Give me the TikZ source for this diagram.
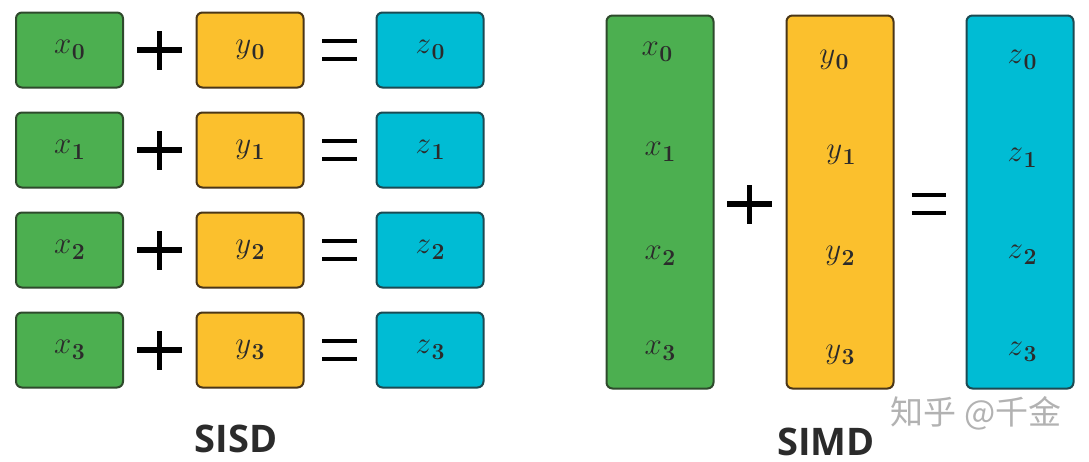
\RequirePackage{fix-cm}
\documentclass[tikz,border=0pt]{standalone}
\usepackage{fontspec}
\newfontfamily\labelfont{Open Sans}
\newfontfamily\cjk{Noto Sans CJK SC}
\definecolor{gfill}{HTML}{4CAF50}
\definecolor{gdraw}{HTML}{2E4A2C}
\definecolor{yfill}{HTML}{FBC02D}
\definecolor{ydraw}{HTML}{4A3618}
\definecolor{cfill}{HTML}{00BCD4}
\definecolor{cdraw}{HTML}{1C4A52}
\definecolor{txt}{HTML}{2B2B2B}
\newcommand{\varsub}[2]{$#1$\kern0.5pt\raisebox{-6pt}{\fontsize{23}{23}\selectfont\bfseries #2}}
\tikzset{
  cell/.style={rounded corners=6pt, line width=2pt, minimum width=107pt, inner sep=0pt, text=txt,
    font=\fontsize{31}{38}\selectfont},
  gcell/.style={cell, fill=gfill, draw=gdraw},
  ycell/.style={cell, fill=yfill, draw=ydraw},
  ccell/.style={cell, fill=cfill, draw=cdraw},
  small/.style={minimum height=75pt},
  tall/.style={minimum height=373pt},
  lbl/.style={text=txt, inner sep=0pt, font=\fontsize{31}{38}\selectfont},
  opline/.style={line width=5.5pt, black},
  eqline/.style={line width=4pt, black},
  title/.style={text=txt, font=\labelfont\bfseries\fontsize{38}{44}\selectfont},
}
\begin{document}
\begin{tikzpicture}[x=1pt,y=-1pt]
\useasboundingbox (0,0) rectangle (1089,461);
% SISD
\foreach \i/\yy in {0/50,1/150,2/250,3/350}{
  \node[gcell,small] (sx\i) at (69.5,\yy) {\varsub{x}{\i}};
  \node[ycell,small] (sy\i) at (250,\yy) {\varsub{y}{\i}};
  \node[ccell,small] (sz\i) at (430,\yy) {\varsub{z}{\i}};
  \node[inner sep=0pt, minimum size=44pt] (sp\i) at (159.5,\yy) {};
  \draw[opline] (sp\i.west) -- (sp\i.east);
  \draw[opline] ([yshift=-19.5pt]sp\i.center) -- ([yshift=19.5pt]sp\i.center);
  \node[inner sep=0pt, minimum width=34pt, minimum height=17pt] (se\i) at (339.5,\yy) {};
  \draw[eqline] (se\i.north west) -- (se\i.north east);
  \draw[eqline] (se\i.south west) -- (se\i.south east);
}
\node[title] (sisd) at (236,439) {SISD};
% SIMD
\node[gcell,tall] (mx) at (660,202) {};
\node[ycell,tall] (my) at (840,202) {};
\node[ccell,tall] (mz) at (1020,202) {};
\node[lbl] (mx0) at (657,52) {\varsub{x}{0}};
\node[lbl] (mx1) at (660,152) {\varsub{x}{1}};
\node[lbl] (mx2) at (660,256) {\varsub{x}{2}};
\node[lbl] (mx3) at (660,351) {\varsub{x}{3}};
\node[lbl] (my0) at (834,60) {\varsub{y}{0}};
\node[lbl] (my1) at (841,155) {\varsub{y}{1}};
\node[lbl] (my2) at (840,256) {\varsub{y}{2}};
\node[lbl] (my3) at (840,355) {\varsub{y}{3}};
\node[lbl] (mz0) at (1022,60) {\varsub{z}{0}};
\node[lbl] (mz1) at (1022,158) {\varsub{z}{1}};
\node[lbl] (mz2) at (1022,255) {\varsub{z}{2}};
\node[lbl] (mz3) at (1022,352) {\varsub{z}{3}};
\node[inner sep=0pt, minimum size=44pt] (mp) at (749.5,204) {};
\draw[opline] (mp.west) -- (mp.east);
\draw[opline] ([yshift=-19.5pt]mp.center) -- ([yshift=19.5pt]mp.center);
\node[inner sep=0pt, minimum width=34pt, minimum height=18pt] (me) at (929,204) {};
\draw[eqline] (me.north west) -- (me.north east);
\draw[eqline] (me.south west) -- (me.south east);
\node[title] (simd) at (826,442) {SIMD};
\node[text=black!30, font=\cjk\fontsize{33}{38}\selectfont] (wm) at (976,413) {知乎 @千金};
\end{tikzpicture}
\end{document}
